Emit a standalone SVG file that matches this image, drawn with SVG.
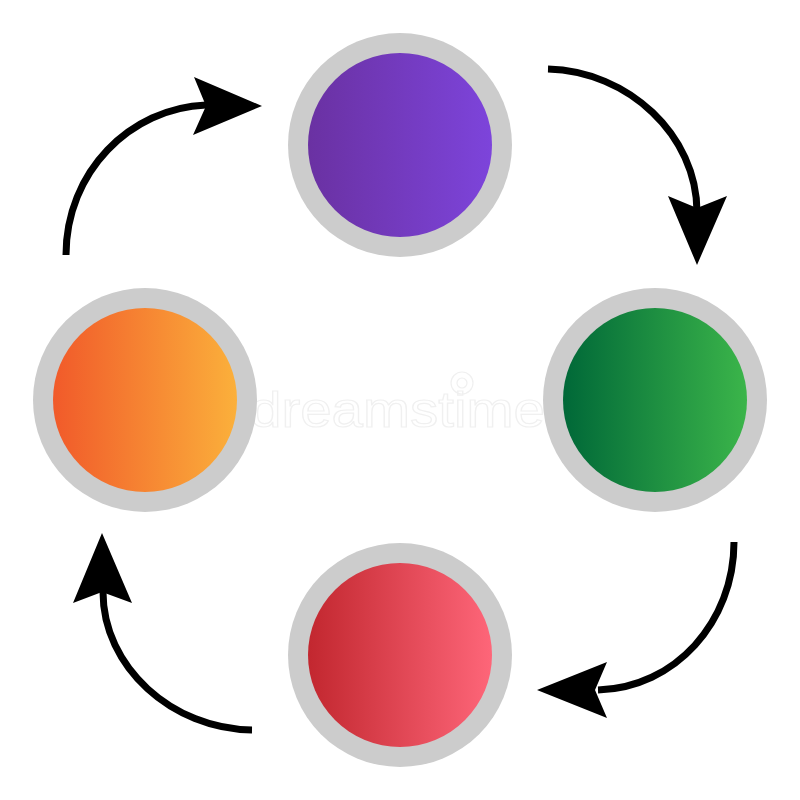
<svg xmlns="http://www.w3.org/2000/svg" width="800" height="800" viewBox="0 0 800 800">
<defs>
<linearGradient id="gPurple" x1="0" y1="0" x2="1" y2="0"><stop offset="0" stop-color="#6a31a2"/><stop offset="1" stop-color="#7d44db"/></linearGradient>
<linearGradient id="gGreen" x1="0" y1="0" x2="1" y2="0"><stop offset="0" stop-color="#006838"/><stop offset="1" stop-color="#3bb54a"/></linearGradient>
<linearGradient id="gOrange" x1="0" y1="0" x2="1" y2="0"><stop offset="0" stop-color="#f15a2a"/><stop offset="1" stop-color="#fbb03b"/></linearGradient>
<linearGradient id="gRed" x1="0" y1="0" x2="1" y2="0"><stop offset="0" stop-color="#c2272f"/><stop offset="1" stop-color="#fe6679"/></linearGradient>
</defs>
<style>
.ring{fill:#cccccc}
.shaft{fill:none;stroke:#000;stroke-width:7}
.head{fill:#000}
.wm{font-family:"Liberation Sans",Arial,sans-serif;font-size:50px;fill:none;stroke:#f0f0f0;stroke-width:1.2}
</style>
<rect width="800" height="800" fill="#ffffff"/>
<g id="watermark">
<text class="wm" x="250" y="427" textLength="295" lengthAdjust="spacingAndGlyphs">dreamstime</text>
<circle cx="462" cy="383" r="11" fill="none" stroke="#f0f0f0" stroke-width="1.2"/>
<circle cx="462" cy="383" r="5" fill="none" stroke="#f0f0f0" stroke-width="1.2"/>
</g>
<g id="node-top"><circle class="ring" cx="400" cy="145" r="112"/><circle cx="400" cy="145" r="92" fill="url(#gPurple)"/></g>
<g id="node-right"><circle class="ring" cx="655" cy="400" r="112"/><circle cx="655" cy="400" r="92" fill="url(#gGreen)"/></g>
<g id="node-bottom"><circle class="ring" cx="400" cy="655" r="112"/><circle cx="400" cy="655" r="92" fill="url(#gRed)"/></g>
<g id="node-left"><circle class="ring" cx="145" cy="400" r="112"/><circle cx="145" cy="400" r="92" fill="url(#gOrange)"/></g>
<g id="connectors">
<path class="shaft" d="M548,69 C628,71 697,135 697,212"/>
<polygon class="head" points="668,196 697,208 727,196 697,265"/>
<path class="shaft" d="M734,542 C734,622 675,688 598,690"/>
<polygon class="head" points="607,662 595,690 607,718 537,690"/>
<path class="shaft" d="M252,730 C172,729 103,667 103,592"/>
<polygon class="head" points="73,603 102,592 132,603 102,533"/>
<path class="shaft" d="M66,255 C66,172 130,108 206,105"/>
<polygon class="head" points="194,77 206,106 193,135 262,106"/>
</g>
</svg>
